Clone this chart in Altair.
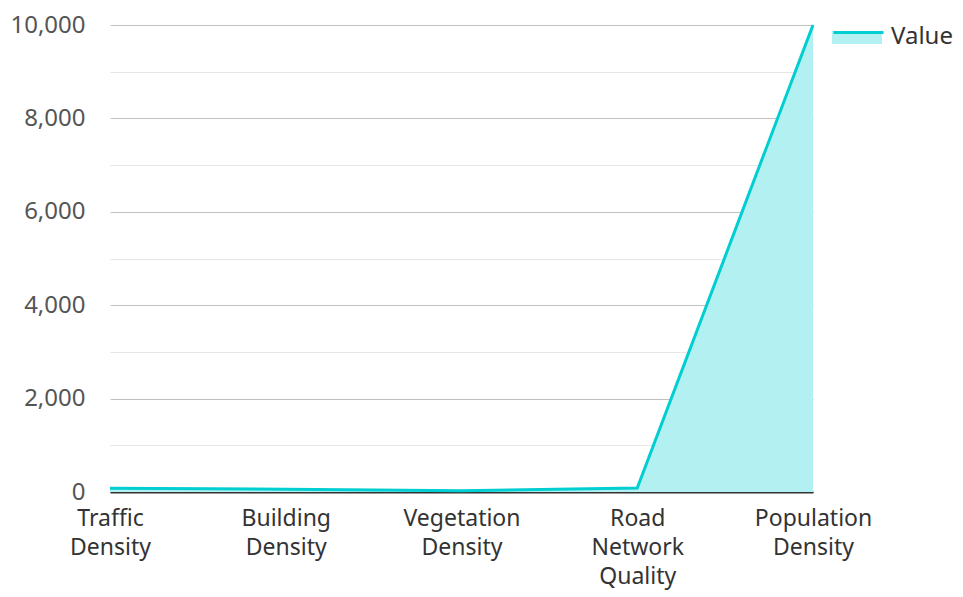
import altair as alt
import pandas as pd

categories = ["Traffic Density", "Building Density", "Vegetation Density",
              "Road Network Quality", "Population Density"]
values = [80, 60, 25, 85, 10000]
series = ["Value"] * len(categories)

df = pd.DataFrame({"category": categories, "value": values, "series": series})

FONT = "Noto Sans"
LINE = "#00CED1"
FILL = "#b2f0f1"
FS = 24

x = alt.X(
    "category:N", sort=categories,
    scale=alt.Scale(type="point", padding=0),
    axis=alt.Axis(title=None, labelAngle=0, labelExpr="split(datum.label, ' ')",
                  labelFontSize=23, labelColor="#333333", labelFont=FONT,
                  labelPadding=15, labelLineHeight=29, labelBaseline="top",
                  domainColor="#333333", domainWidth=2, ticks=False, grid=False),
)
y = alt.Y(
    "value:Q", scale=alt.Scale(domain=[0, 10000], nice=False),
    axis=alt.Axis(title=None, values=list(range(0, 10001, 1000)),
                  labelExpr="datum.value % 2000 == 0 ? datum.label : ''",
                  labelOverlap=False, labelFontSize=FS, labelColor="#555555",
                  labelFont=FONT, labelPadding=25, ticks=False, domain=False,
                  gridColor={"condition": {"test": "datum.value % 2000 == 0", "value": "#c0c0c0"},
                             "value": "#e6e6e6"},
                  gridWidth=1),
)

area = alt.Chart(df).mark_area(opacity=1).encode(
    x=x, y=y,
    fill=alt.Fill("series:N", scale=alt.Scale(domain=["Value"], range=[FILL]),
                  legend=alt.Legend(title=None, orient="none", legendX=722, legendY=-15,
                                    symbolType="M-1,-0.16H1V0.36H-1Z", symbolSize=2500,
                                    symbolStrokeWidth=0, labelExpr="''",
                                    labelFontSize=FS, labelFont=FONT, labelOffset=6)),
)
line = alt.Chart(df).mark_line(strokeWidth=3).encode(
    x=x, y=y,
    stroke=alt.Stroke("series:N", scale=alt.Scale(domain=["Value"], range=[LINE]),
                      legend=alt.Legend(title=None, orient="none", legendX=722, legendY=-15,
                                        symbolType="M-1,-0.16H1", symbolSize=2500,
                                        symbolFillColor="transparent",
                                        symbolStrokeWidth=3, labelFontSize=FS,
                                        labelColor="#333333", labelFont=FONT, labelOffset=6)),
)

chart = alt.layer(area, line).resolve_legend(fill="independent", stroke="independent").properties(
    width=703, height=467,
    autosize=alt.AutoSizeParams(type="none"),
    padding={"left": 102, "top": 17, "right": 142, "bottom": 98},
).configure_view(stroke=None)

chart.save("out.html", embed_options={"renderer": "svg", "actions": False})
